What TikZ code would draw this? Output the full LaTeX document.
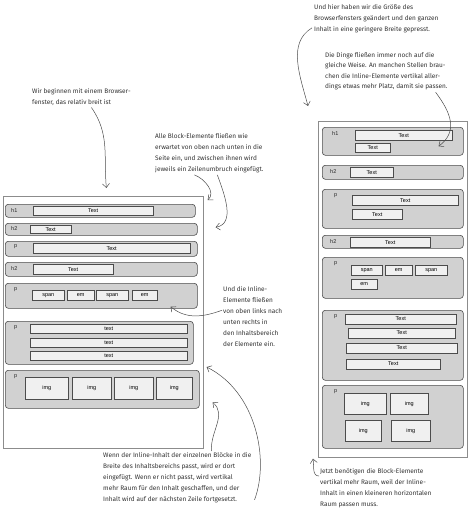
\documentclass[tikz,border=0pt]{standalone}
\usepackage{fontspec}
\newfontfamily\notefont{Fira Sans}
\newfontfamily\tagfont{Liberation Sans}
\usetikzlibrary{arrows.meta,positioning}

\begin{document}
\begin{tikzpicture}[
  x=1pt,y=-1pt,
  win/.style={draw=black!45,fill=white,line width=0.7pt,anchor=north west,inner sep=0pt},
  block/.style={draw=black!70,fill=black!18,rounded corners=3pt,line width=0.6pt,anchor=north west,inner sep=0pt},
  tag/.style={font=\tagfont\fontsize{5.5}{6}\selectfont,text=black!85,anchor=west,inner sep=0pt},
  inbox/.style={draw=black!70,fill=black!6,line width=0.45pt,anchor=north west,inner sep=0pt,
    font=\tagfont\fontsize{5.5}{6}\selectfont},
  note/.style={font=\notefont\fontsize{6.5}{11}\selectfont,text=black!80,align=left,anchor=north west,inner sep=0pt},
  arrow/.style={-{Straight Barb[length=4pt,width=7pt]},draw=black!70,line width=0.5pt}
]
\useasboundingbox (0,0) rectangle (474,519);

% wide window
\node[win,minimum width=200,minimum height=252] (lwin) at (3,196) {};
\node[block,minimum width=190,minimum height=13] (lh1) at (5,204) {};
\node[tag] (lh1t) at (11,210.5) {h1};
\node[inbox,minimum width=120,minimum height=9] (lh1x) at (33,206) {Text};
\node[block,minimum width=192,minimum height=12] (lh2a) at (5,223) {};
\node[tag] (lh2at) at (11,229) {h2};
\node[inbox,minimum width=41,minimum height=8] (lh2ax) at (30,225) {Text};
\node[block,minimum width=192,minimum height=15] (lpa) at (5,241) {};
\node[tag] (lpat) at (14,247) {p};
\node[inbox,minimum width=157,minimum height=10] (lpax) at (33,243) {Text};
\node[block,minimum width=192,minimum height=14] (lh2b) at (5,262) {};
\node[tag] (lh2bt) at (11,269) {h2};
\node[inbox,minimum width=80,minimum height=10] (lh2bx) at (33,264) {Text};
\node[block,minimum width=192,minimum height=25] (lps) at (5,283) {};
\node[tag] (lpst) at (14,290) {p};
\foreach \x/\w/\t [count=\i] in {32/32/span,67/27/em,96/32/span,132/25/em}
  \node[inbox,minimum width=\w,minimum height=10] (lsp\i) at (\x,290) {\t};
\node[block,minimum width=188,minimum height=43] (lpt) at (5,321) {};
\node[tag] (lptt) at (14,328) {p};
\foreach \y [count=\i] in {324,338,351}
  \node[inbox,minimum width=157,minimum height=9] (ltx\i) at (30,\y) {text};
\node[block,minimum width=194,minimum height=38] (lpi) at (5,370) {};
\node[tag] (lpit) at (14,377) {p};
\foreach \x/\w [count=\i] in {25/43,72/39,114/39,156/36}
  \node[inbox,minimum width=\w,minimum height=22] (limg\i) at (\x,377) {img};

% narrow window
\node[win,minimum width=149,minimum height=336] (rwin) at (318,121) {};
\node[block,minimum width=141,minimum height=28] (rh1) at (322,127) {};
\node[tag] (rh1t) at (332,134) {h1};
\node[inbox,minimum width=97,minimum height=10] (rh1x) at (355,130) {Text};
\node[inbox,minimum width=35,minimum height=9] (rh1y) at (355,143) {Text};
\node[block,minimum width=141,minimum height=14] (rh2a) at (322,165) {};
\node[tag] (rh2at) at (330,172) {h2};
\node[inbox,minimum width=43,minimum height=10] (rh2ax) at (350,167) {Text};
\node[block,minimum width=141,minimum height=39] (rpa) at (322,189) {};
\node[tag] (rpat) at (334,196) {p};
\node[inbox,minimum width=106,minimum height=10] (rpax) at (352,195) {Text};
\node[inbox,minimum width=50,minimum height=10] (rpay) at (352,209) {Text};
\node[block,minimum width=141,minimum height=13] (rh2b) at (322,235) {};
\node[tag] (rh2bt) at (330,241.5) {h2};
\node[inbox,minimum width=80,minimum height=10] (rh2bx) at (350,237) {Text};
\node[block,minimum width=141,minimum height=41] (rps) at (322,257) {};
\node[tag] (rpst) at (334,264) {p};
\foreach \x/\y/\w/\t [count=\i] in {351/265/31/span,385/265/27/em,415/265/32/span,351/279/26/em}
  \node[inbox,minimum width=\w,minimum height=10] (rsp\i) at (\x,\y) {\t};
\node[block,minimum width=141,minimum height=70] (rpt) at (322,310) {};
\node[tag] (rptt) at (334,317) {p};
\foreach \x/\y/\w [count=\i] in {345/314/111,348/328/107,346/343/111,346/359/94}
  \node[inbox,minimum width=\w,minimum height=9.5] (rtx\i) at (\x,\y) {Text};
\node[block,minimum width=141,minimum height=63] (rpi) at (322,385) {};
\node[tag] (rpit) at (334,392) {p};
\foreach \x/\y/\w [count=\i] in {344/393/42,390/393/38,345/420/36,391/420/39}
  \node[inbox,minimum width=\w,minimum height=21] (rimg\i) at (\x,\y) {img};

% notes
\node[note] (note1) at (32,88) {Wir beginnen mit einem Browser-\\fenster, das relativ breit ist};
\node[note] (note2) at (155,133) {Alle Block-Elemente fließen wie\\erwartet von oben nach unten in die\\Seite ein, und zwischen ihnen wird\\jeweils ein Zeilenumbruch eingefügt.};
\node[note] (note3) at (223,286) {Und die Inline-\\Elemente fließen\\von oben links nach\\unten rechts in\\den Inhaltsbereich\\der Elemente ein.};
\node[note] (note4) at (103,452) {Wenn der Inline-Inhalt der einzelnen Blöcke in die\\Breite des Inhaltsbereichs passt, wird er dort\\eingefügt. Wenn er nicht passt, wird vertikal\\mehr Raum für den Inhalt geschaffen, und der\\Inhalt wird auf der nächsten Zeile fortgesetzt.};
\node[note] (note5) at (320,468) {Jetzt benötigen die Block-Elemente\\vertikal mehr Raum, weil der Inline-\\Inhalt in einen kleineren horizontalen\\Raum passen muss.};
\node[note] (note6) at (314,4) {Und hier haben wir die Größe des\\Browserfensters geändert und den ganzen\\Inhalt in eine geringere Breite gepresst.};
\node[note,font=\notefont\fontsize{6.5}{10.5}\selectfont] (note7) at (325,52) {Die Dinge fließen immer noch auf die\\gleiche Weise. An manchen Stellen brau-\\chen die Inline-Elemente vertikal aller-\\dings etwas mehr Platz, damit sie passen.};

\draw[arrow] ([xshift=10pt,yshift=-2pt]note1.south) to[out=-55,in=95] ([xshift=3pt,yshift=8pt]lwin.north);
\draw[arrow] ([xshift=-15pt,yshift=-2pt]note2.south) to[out=-20,in=40] ([xshift=4pt,yshift=-4pt]lwin.north east);
\draw[arrow] ([xshift=8pt,yshift=-2pt]note2.south) to[out=-70,in=10] ([xshift=18pt,yshift=2pt]lh2a.east);
\draw[arrow] ([xshift=-1pt,yshift=6pt]note3.west) to[out=200,in=-40] ([xshift=-27pt,yshift=2pt]lps.south east);
\draw[arrow] ([xshift=-40pt,yshift=1pt]note4.north east) to[out=95,in=-40] ([xshift=13pt,yshift=-13pt]lpi.east);
\draw[arrow] ([xshift=3pt,yshift=3pt]note4.south east) .. controls +(15,-40) and +(50,25) .. ([xshift=7pt,yshift=3pt]lpi.north east);
\draw[arrow] ([xshift=-1pt,yshift=-8pt]note5.north west) to[out=180,in=-80] ([xshift=-5pt,yshift=-1pt]rwin.south west);
\draw[arrow] ([xshift=-2pt,yshift=5pt]note6.south west) .. controls +(-25,15) and +(-8,-30) .. ([xshift=-10pt,yshift=15pt]rwin.north west);
\draw[arrow] ([xshift=-12pt,yshift=-2pt]note7.south east) .. controls +(15,20) and +(20,-15) .. ([xshift=-25pt,yshift=-5pt]rh1.east);
\end{tikzpicture}
\end{document}
